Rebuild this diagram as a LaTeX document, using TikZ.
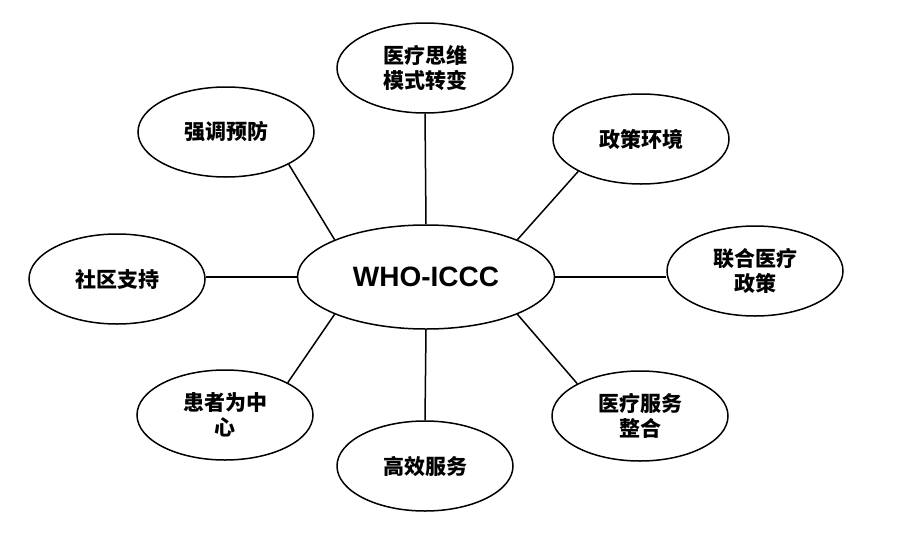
\documentclass[tikz,border=0pt]{standalone}
\usepackage{fontspec}
\setmainfont{Liberation Sans}
\newfontfamily\cjk{Noto Sans CJK SC}
\usetikzlibrary{shapes.geometric}
\tikzset{
  bubble/.style={ellipse, draw, line width=1.5pt, minimum width=176pt, minimum height=90pt, inner sep=0pt,
    align=center, font=\cjk\bfseries\fontsize{21}{25}\selectfont},
  hub/.style={ellipse, draw, line width=1.5pt, minimum width=257pt, minimum height=104pt, inner sep=0pt,
    font=\bfseries\fontsize{28}{32}\selectfont},
  link/.style={line width=1.5pt}
}
\begin{document}
\begin{tikzpicture}[x=1pt,y=-1pt]
\useasboundingbox (0,0) rectangle (907,549);
\node[hub] (c) at (426,277) {WHO-ICCC};
\node[bubble] (top) at (425,68) {医疗思维\\模式转变};
\node[bubble] (nw) at (226,132) {强调预防};
\node[bubble] (ne) at (641,139) {政策环境};
\node[bubble] (w) at (117,279) {社区支持};
\node[bubble] (e) at (755,271) {联合医疗\\政策};
\node[bubble] (sw) at (225,415) {患者为中\\心};
\node[bubble] (bot) at (425,466) {高效服务};
\node[bubble] (se) at (640,416) {医疗服务\\整合};
\draw[link] (c.north) -- (top.south);
\draw[link] (c.north west) -- (nw.south east);
\draw[link] (c.north east) -- (ne.south west);
\draw[link] (c.west) -- (c.west -| w.east);
\draw[link] (c.east) -- (c.east -| e.west);
\draw[link] (c.south west) -- (sw.north east);
\draw[link] (c.south) -- (bot.north);
\draw[link] (c.south east) -- (se.north west);
\end{tikzpicture}
\end{document}
